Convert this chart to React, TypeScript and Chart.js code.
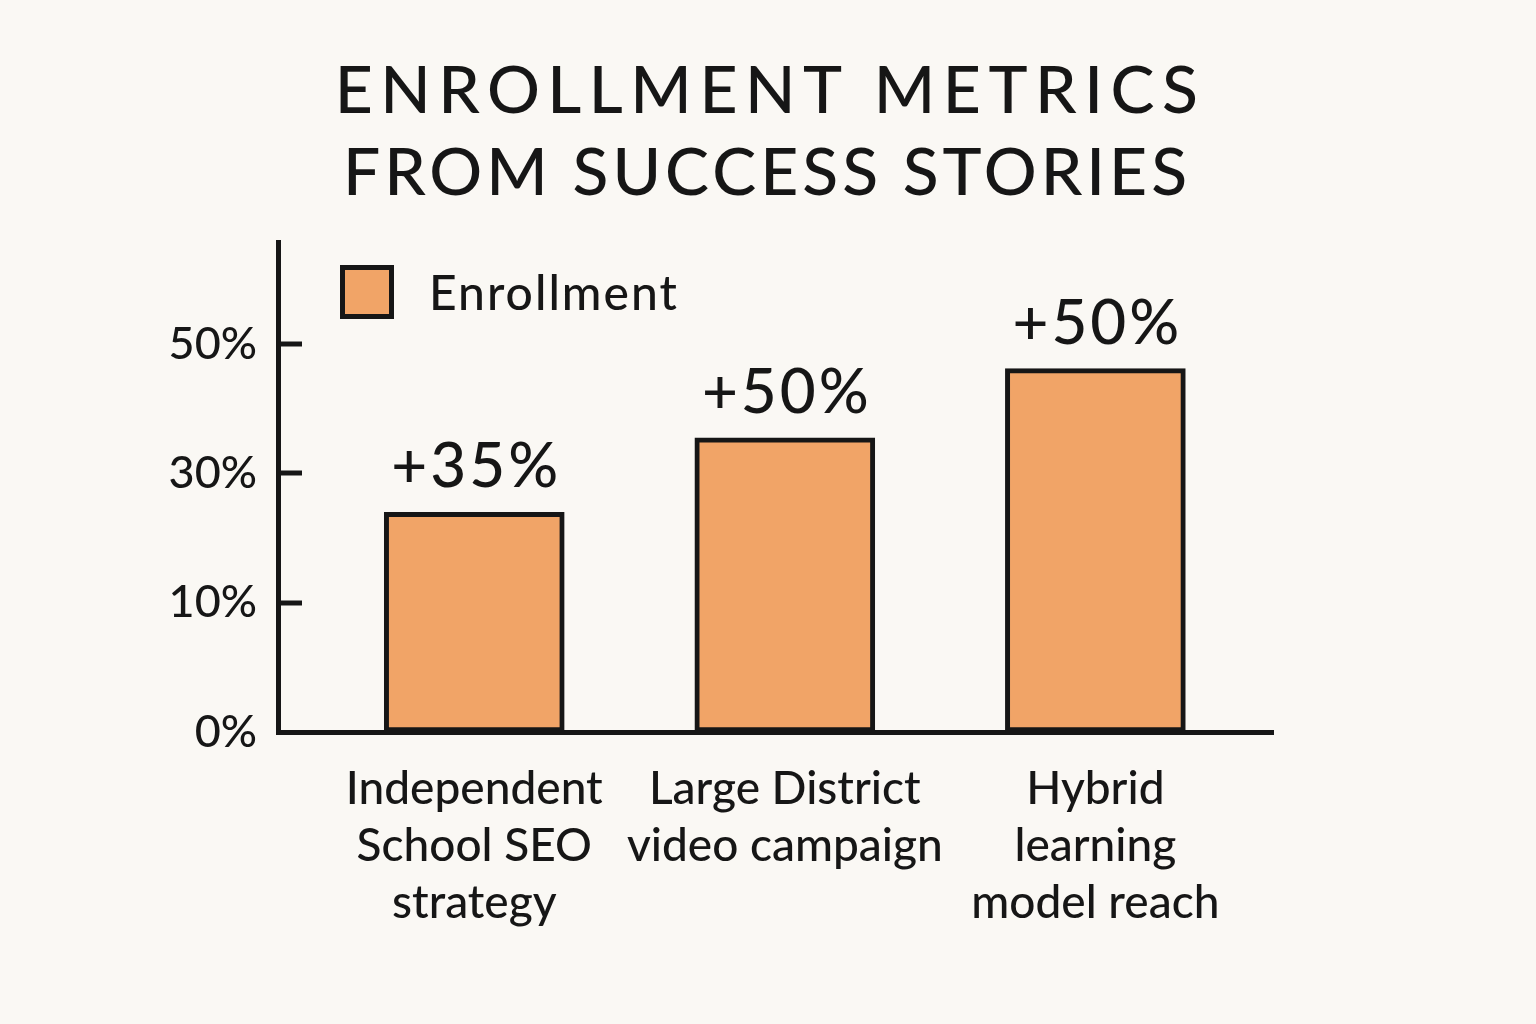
import React, { useEffect, useRef } from 'react';
import { Chart, registerables } from 'chart.js';

Chart.register(...registerables);

// ---- data ----
const titleLines = ['ENROLLMENT METRICS', 'FROM SUCCESS STORIES'];
const seriesLabel = 'Enrollment';
const categories: string[][] = [
  ['Independent', 'School SEO', 'strategy'],
  ['Large District', 'video campaign'],
  ['Hybrid', 'learning', 'model reach'],
];
// bar heights as read against the drawn (unevenly labelled) y axis, in %
const barValues = [24, 35.5, 46.2];
// annotations printed above the bars
const valueLabels = ['+35%', '+50%', '+50%'];
// y axis: ticks are drawn evenly spaced but labelled 0 / 10 / 30 / 50 %
const yTickValues = [0, 10, 30, 50];
const yTickLabels = ['0%', '10%', '30%', '50%'];

// ---- styles ----
const INK = '#161616';
const ORANGE = '#F1A467';
const BG = '#FAF8F4';
const FONT = "Lato, 'Noto Sans', sans-serif";

// map a percent value onto the evenly spaced tick positions of the drawn axis
function toAxis(v: number): number {
  for (let i = 0; i < yTickValues.length - 1; i++) {
    const a = yTickValues[i];
    const b = yTickValues[i + 1];
    if (v <= b || i === yTickValues.length - 2) {
      return i + (v - a) / (b - a);
    }
  }
  return 0;
}

const decorPlugin = {
  id: 'decor',
  beforeDraw(chart: any) {
    const ctx = chart.ctx;
    ctx.save();
    ctx.fillStyle = BG;
    ctx.fillRect(0, 0, chart.width, chart.height);
    ctx.restore();
  },
  afterDraw(chart: any) {
    const ctx = chart.ctx as CanvasRenderingContext2D;
    const area = chart.chartArea;
    const yScale = chart.scales.y;

    // inward tick marks
    ctx.save();
    ctx.strokeStyle = INK;
    ctx.lineWidth = 5;
    ctx.lineCap = 'butt';
    for (let i = 1; i < yTickValues.length; i++) {
      const y = Math.round(yScale.getPixelForValue(i));
      ctx.beginPath();
      ctx.moveTo(area.left, y);
      ctx.lineTo(area.left + 24, y);
      ctx.stroke();
    }
    ctx.restore();

    // value labels above bars
    const meta = chart.getDatasetMeta(0);
    ctx.save();
    ctx.fillStyle = INK;
    ctx.font = `500 62px ${FONT}`;
    (ctx as any).letterSpacing = '3px';
    ctx.textAlign = 'center';
    ctx.textBaseline = 'alphabetic';
    meta.data.forEach((bar: any, i: number) => {
      ctx.fillText(valueLabels[i], bar.x + 2, bar.y - 25);
    });
    ctx.restore();

    // legend inside plot area
    const ds = chart.data.datasets[0];
    ctx.save();
    const bx = area.left + 62;
    const by = area.top + 23;
    const bs = 54;
    ctx.fillStyle = ds.backgroundColor;
    ctx.fillRect(bx, by, bs, bs);
    ctx.strokeStyle = INK;
    ctx.lineWidth = 5;
    ctx.strokeRect(bx + 2.5, by + 2.5, bs - 5, bs - 5);
    ctx.fillStyle = INK;
    ctx.font = `500 48px ${FONT}`;
    (ctx as any).letterSpacing = '2px';
    ctx.textAlign = 'left';
    ctx.textBaseline = 'alphabetic';
    ctx.fillText(ds.label, bx + 89, by + 45);
    ctx.restore();

    // title
    ctx.save();
    ctx.fillStyle = INK;
    ctx.font = `500 66px ${FONT}`;
    ctx.textAlign = 'center';
    ctx.textBaseline = 'alphabetic';
    (ctx as any).letterSpacing = '7.5px';
    ctx.fillText(titleLines[0], 770, 113);
    (ctx as any).letterSpacing = '4px';
    ctx.fillText(titleLines[1], 767, 195);
    ctx.restore();
  },
};

export default function App() {
  const ref = useRef<HTMLCanvasElement | null>(null);

  useEffect(() => {
    document.body.style.margin = '0';
    document.body.style.background = BG;
    const canvas = ref.current;
    if (!canvas) return;
    const chart = new Chart(canvas, {
      type: 'bar',
      data: {
        datasets: [
          {
            label: seriesLabel,
            data: barValues.map((v, i) => ({ x: i, y: toAxis(v) })),
            backgroundColor: ORANGE,
            borderColor: INK,
            borderWidth: 5,
            borderSkipped: false,
            barThickness: 180,
          } as any,
        ],
      },
      options: {
        animation: false,
        responsive: false,
        maintainAspectRatio: false,
        devicePixelRatio: 1,
        layout: { padding: { top: 242, right: 263, bottom: 0, left: 0 } },
        plugins: {
          legend: { display: false },
          title: { display: false },
          tooltip: { enabled: false },
        },
        scales: {
          x: {
            type: 'linear',
            offset: false,
            min: -0.632,
            max: 2.572,
            afterBuildTicks: (s: any) => {
              s.ticks = categories.map((_, i) => ({ value: i }));
            },
            afterFit: (s: any) => {
              s.height = 292;
            },
            grid: { display: false, drawTicks: false, offset: false },
            border: { display: true, color: INK, width: 5 },
            ticks: {
              autoSkip: false,
              maxRotation: 0,
              minRotation: 0,
              padding: 29,
              color: INK,
              font: { family: FONT, size: 46, weight: '500', lineHeight: 1.24 },
              callback: (_v: any, i: number) => categories[i],
            },
          },
          y: {
            type: 'linear',
            min: 0,
            max: 3.79,
            afterBuildTicks: (s: any) => {
              s.ticks = yTickValues.map((_, i) => ({ value: i }));
            },
            afterFit: (s: any) => {
              s.width = 278;
            },
            grid: { display: false, drawTicks: false },
            border: { display: true, color: INK, width: 5 },
            ticks: {
              padding: 21,
              color: INK,
              font: { family: FONT, size: 45, weight: '500' },
              callback: (_v: any, i: number) => yTickLabels[i],
            },
          },
        },
      } as any,
      plugins: [decorPlugin],
    });
    return () => chart.destroy();
  }, []);

  return (
    <div style={{ width: 1536, height: 1024, background: BG }}>
      <canvas ref={ref} width={1536} height={1024} style={{ display: 'block', width: 1536, height: 1024 }} />
    </div>
  );
}
